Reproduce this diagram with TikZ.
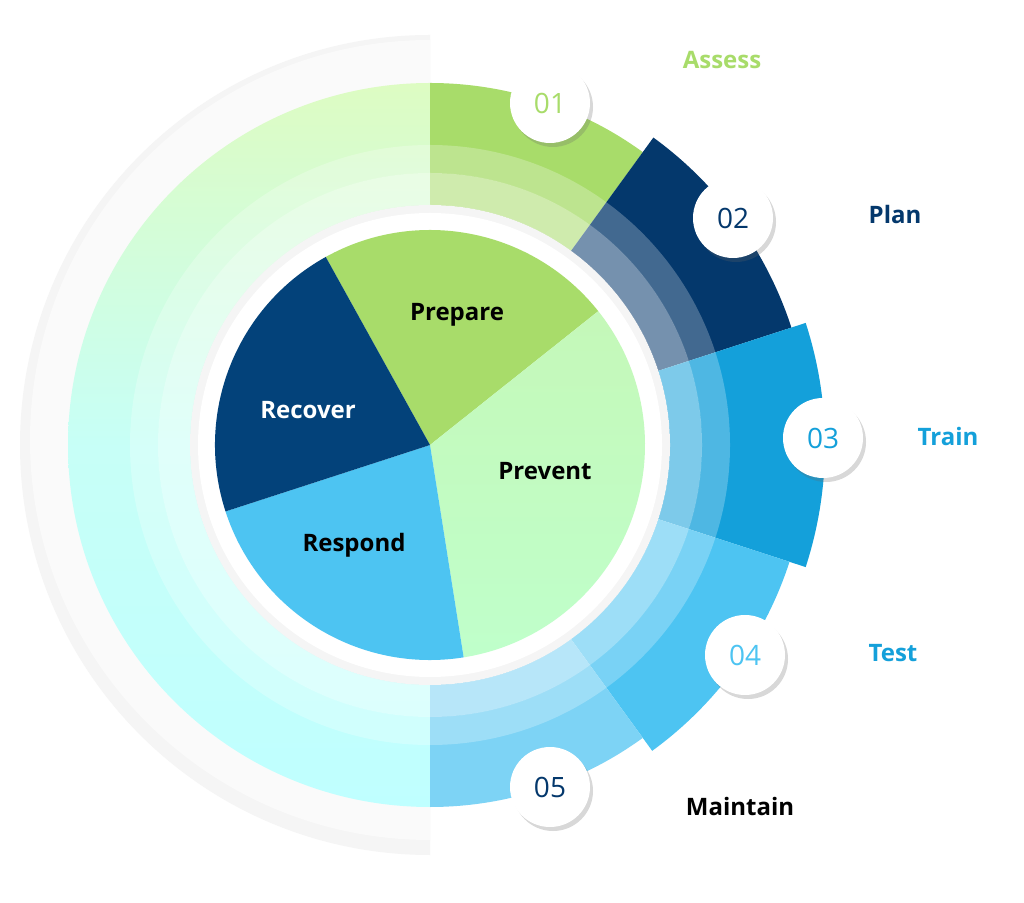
\documentclass[tikz,border=0pt]{standalone}
\usepackage{fontspec}
\setmainfont{Open Sans}
\usetikzlibrary{shadows}
\definecolor{cA}{HTML}{A8DC6A}
\definecolor{cB}{HTML}{04386C}
\definecolor{cC}{HTML}{14A0DA}
\definecolor{cD}{HTML}{4DC4F2}
\definecolor{cE}{HTML}{7DD3F5}
\definecolor{cR}{HTML}{03427A}
\tikzset{
 numc/.style={circle,fill=white,minimum size=80pt,inner sep=0pt,font=\fontsize{28}{30}\selectfont,
   drop shadow={shadow xshift=3pt,shadow yshift=-4pt,opacity=0.25,fill=black!60}},
 lab/.style={font=\bfseries\fontsize{24}{28}\selectfont},
 pie/.style={font=\bfseries\fontsize{24}{28}\selectfont}
}
\begin{document}
\begin{tikzpicture}[x=1pt,y=1pt]
\fill[white] (0,0) rectangle (1024,902);
\useasboundingbox (0,0) rectangle (1024,902);
\coordinate (C) at (430,457);
% halo
\fill[black!4] (430,867) arc[start angle=90,end angle=270,radius=410] -- cycle;
\fill[black!2] (430,862) arc[start angle=90,end angle=270,radius=400] -- cycle;
% left ring
\shade[top color=green!40!lime!20!white!90!cA, bottom color=cyan!25!white, middle color=green!15!cyan!22!white] (430,819) arc[start angle=90,end angle=270,radius=362] -- cycle;
% right segments
\fill[cA] (C) -- ++(90:362) arc[start angle=90,end angle=54,radius=362] -- cycle;
\fill[cB] (C) -- ++(54:380) arc[start angle=54,end angle=18,radius=380] -- cycle;
\fill[cC] (C) -- ++(18:395) arc[start angle=18,end angle=-18,radius=395] -- cycle;
\fill[cD] (C) -- ++(-18:378) arc[start angle=-18,end angle=-54,radius=378] -- cycle;
\fill[cE] (C) -- ++(-54:362) arc[start angle=-54,end angle=-90,radius=362] -- cycle;
% translucent ring
\fill[white,opacity=0.45,even odd rule] (C) circle[radius=272] (C) circle[radius=240];
\fill[white,opacity=0.25,even odd rule] (C) circle[radius=300] (C) circle[radius=272];
\fill[black!4] (C) circle[radius=240];
\fill[white] (C) circle[radius=232];
% pie
\fill[cA] (C) -- ++(119:215) arc[start angle=119,end angle=38.5,radius=215] -- cycle;
\shade[top color=green!20!white!80!cA, bottom color=cyan!18!green!25!white] (C) -- ++(38.5:215) arc[start angle=38.5,end angle=-81,radius=215] -- cycle;
\fill[cD] (C) -- ++(-81:215) arc[start angle=-81,end angle=-162,radius=215] -- cycle;
\fill[cR] (C) -- ++(198:215) arc[start angle=198,end angle=119,radius=215] -- cycle;
\node[pie] (p1) at (457,587) {Prepare};
\node[pie] (p2) at (545,431) {Prevent};
\node[pie] (p3) at (354,357) {Respond};
\node[pie,white] (p4) at (308,492) {Recover};
% numbers
\node[numc,text=cA] (n1) at (550,799) {01};
\node[numc,text=cB] (n2) at (733,684) {02};
\node[numc,text=cC] (n3) at (823,464) {03};
\node[numc,text=cD] (n4) at (745,247) {04};
\node[numc,text=cB] (n5) at (550,115) {05};
\node[lab,text=cA] (l1) at (722,842) {Assess};
\node[lab,text=cB] (l2) at (895,687) {Plan};
\node[lab,text=cC] (l3) at (948,465) {Train};
\node[lab,text=cC] (l4) at (893,249) {Test};
\node[lab,text=black] (l5) at (740,96) {Maintain};
\end{tikzpicture}
\end{document}
